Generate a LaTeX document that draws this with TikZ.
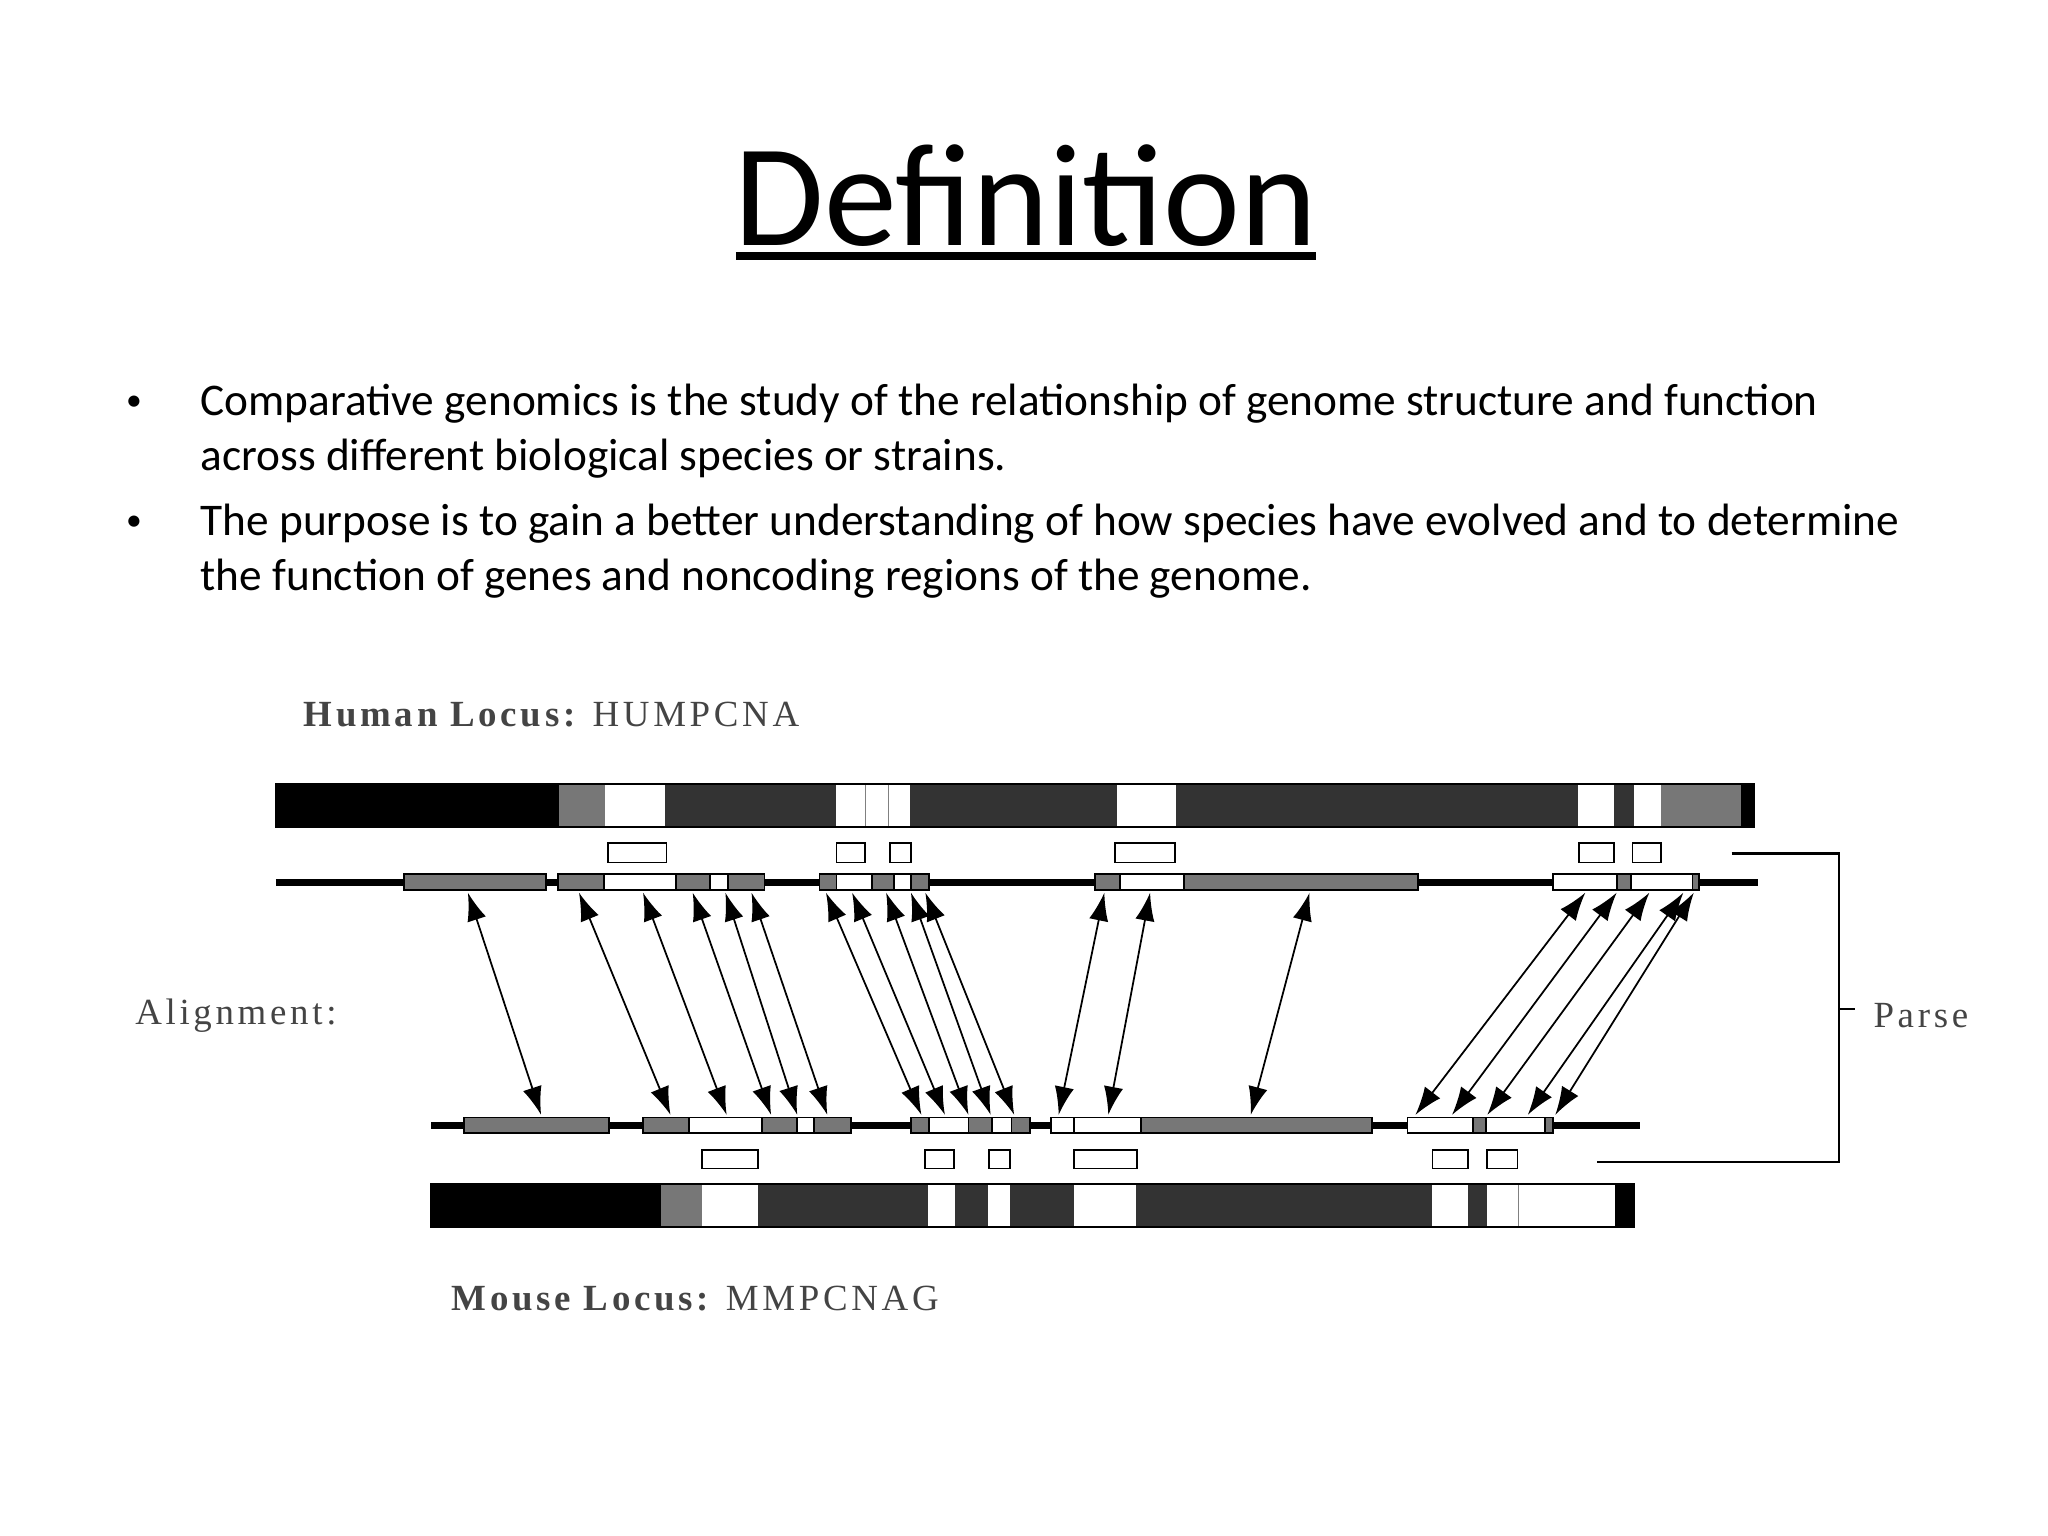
\documentclass[tikz,border=0pt]{standalone}
\usepackage{fontspec}
\setmainfont{Carlito}
\newfontfamily\serifb[LetterSpace=10]{Liberation Serif}
\usetikzlibrary{arrows.meta}
\definecolor{dk}{HTML}{333333}
\definecolor{gr}{HTML}{777777}
\definecolor{lab}{HTML}{444444}
\tikzset{
  seg/.style={draw=black,line width=0.5pt},
  aln/.style={line width=0.5pt,{Latex[length=8pt,width=5.5pt]}-{Latex[length=8pt,width=5.5pt]}},
  gline/.style={line width=2pt},
  lbl/.style={font=\serifb\bfseries\fontsize{10.5}{12}\selectfont,text=lab,inner sep=0pt},
  lbm/.style={font=\serifb\fontsize{10.5}{12}\selectfont,text=lab,inner sep=0pt},
}
\begin{document}
\begin{tikzpicture}[x=0.013070cm,y=-0.013070cm]
\useasboundingbox (0,0) rectangle (1567,1175);
% title
\node[font=\fontsize{41.5}{45}\selectfont,anchor=base,inner sep=0pt] (title) at (785,188) {Definition};
\draw[line width=2.2pt] (563,196) -- (1007,196);
% bullets
\begin{scope}[every node/.style={anchor=base west,inner sep=0pt,font=\fontsize{12.9}{15}\selectfont}]
\node[font=\fontsize{9}{10}\selectfont] (b1) at (96,314) {•};
\node (t1) at (153,318) {Comparative genomics is the study of the relationship of genome structure and function};
\node (t1b) at (153,360) {across different biological species or strains.};
\node[font=\fontsize{9}{10}\selectfont] (b2) at (96,406) {•};
\node (t2) at (153,410) {The purpose is to gain a better understanding of how species have evolved and to determine};
\node (t2b) at (153,452) {the function of genes and noncoding regions of the genome.};
\end{scope}
% labels
\node[lbl,anchor=base west] (hl) at (232,556) {Human Locus: \mdseries HUMPCNA};
\node[lbl,anchor=base west] (ml) at (345,1003) {Mouse Locus: \mdseries MMPCNAG};
\node[lbm,anchor=base west] (al) at (103,784) {Alignment:};
\node[lbm,anchor=base west] (pa) at (1433,786) {Parse};
% human bar
\foreach \a/\b/\c in {211/428/black,428/463/gr,463/509/white,509/640/dk,640/662/white,662/680/white,680/696/white,696/855/dk,855/900/white,900/1207/dk,1207/1235/white,1235/1250/dk,1250/1271/white,1271/1332/gr,1332/1342/black}
  \fill[\c] (\a,600) rectangle (\b,633);
\draw[line width=0.3pt,gray] (662,600) -- (662,633) (680,600) -- (680,633);
\draw[line width=0.6pt] (211,600) rectangle (1342,633);
% human exon boxes
\foreach \a/\b in {465/510,640/662,681/697,853/899,1208/1235,1249/1271}
  \draw[seg,fill=white] (\a,645) rectangle (\b,660);
% human gene line
\draw[gline] (211,675) -- (1345,675);
\foreach \a/\b/\c in {309/418/gr,427/462/gr,462/517/white,517/543/gr,543/557/white,557/585/gr,627/640/gr,640/667/white,667/684/gr,684/697/white,697/711/gr,838/857/gr,857/906/white,906/1085/gr,1188/1237/white,1237/1248/gr,1248/1295/white,1295/1300/gr}
  \draw[seg,fill=\c] (\a,669) rectangle (\b,681);
% mouse gene line
\draw[gline] (330,861) -- (1255,861);
\foreach \a/\b/\c in {355/466/gr,492/527/gr,527/583/white,583/610/gr,610/623/white,623/651/gr,697/711/gr,711/741/white,741/759/gr,759/774/white,774/788/gr,804/822/white,822/873/white,873/1050/gr,1077/1127/white,1127/1137/gr,1137/1182/white,1182/1188/gr}
  \draw[seg,fill=\c] (\a,855) rectangle (\b,867);
% mouse exon boxes
\foreach \a/\b in {537/580,708/730,757/773,822/870,1096/1123,1138/1161}
  \draw[seg,fill=white] (\a,880) rectangle (\b,894);
% mouse bar
\foreach \a/\b/\c in {330/506/black,506/537/gr,537/580/white,580/710/dk,710/731/white,731/756/dk,756/773/white,773/822/dk,822/869/white,869/1096/dk,1096/1123/white,1123/1138/dk,1138/1162/white,1162/1236/white,1236/1250/black}
  \fill[\c] (\a,906) rectangle (\b,939);
\draw[line width=0.3pt,gray] (1162,906) -- (1162,939);
\draw[line width=0.6pt] (330,906) rectangle (1250,939);
% alignment arrows
\foreach \t/\m in {358/414,443/513,492/556,530/590,555/610,575/633,632/705,652/723,678/741,697/758,708/776,845/810,880/848,1002/957,1213/1083,1237/1111,1262/1138,1288/1169,1296/1190}
  \draw[aln] (\t,683) -- (\m,853);
% parse bracket
\draw[line width=0.6pt] (1325,653) -- (1407,653) -- (1407,889) -- (1222,889);
\draw[line width=0.6pt] (1407,772) -- (1419,772);
\end{tikzpicture}
\end{document}
